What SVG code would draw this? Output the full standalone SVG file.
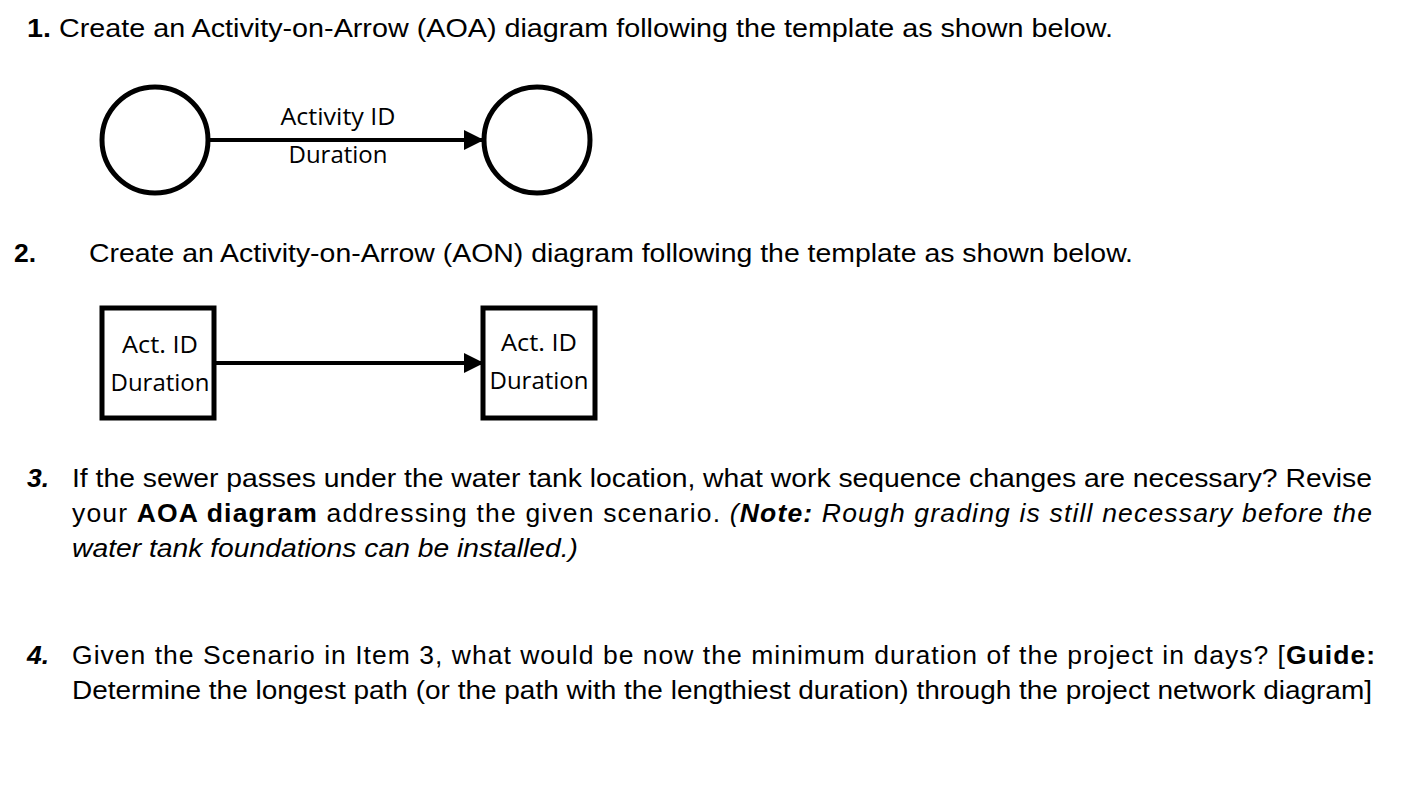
<svg xmlns="http://www.w3.org/2000/svg" width="1406" height="808" viewBox="0 0 1406 808">
<defs>
<style>
.t{font-family:"Liberation Sans",Arial,sans-serif;font-size:26.5px;fill:#000}
.c{font-family:"Open Sans","Liberation Sans",sans-serif;font-size:23px;fill:#000;text-anchor:middle}
.n{fill:#fff;stroke:#000;stroke-width:5}
.e{stroke:#000;stroke-width:4;fill:none;marker-end:url(#ah)}
</style>
<marker id="ah" markerWidth="5" markerHeight="5" refX="4.5" refY="2.5" orient="auto" markerUnits="strokeWidth"><path d="M0,0 L5,2.5 L0,5 z" fill="#000"/></marker>
</defs>
<rect width="1406" height="808" fill="#fff"/>
<text class="t" x="27" y="37" textLength="1086" lengthAdjust="spacingAndGlyphs"><tspan font-weight="bold">1.</tspan>  Create an Activity-on-Arrow (AOA) diagram following the template as shown below.</text>
<g id="connectors">
<line class="e" x1="210" y1="140" x2="482" y2="140"/>
<line class="e" x1="214" y1="363" x2="482" y2="363"/>
</g>
<g id="aoa1"><circle class="n" cx="155" cy="140" r="53"/></g>
<g id="aoa2"><circle class="n" cx="537" cy="140" r="53"/></g>
<text class="c" x="338" y="125" textLength="115" lengthAdjust="spacingAndGlyphs">Activity ID</text>
<text class="c" x="338" y="163" textLength="99" lengthAdjust="spacingAndGlyphs">Duration</text>
<text class="t" x="14" y="262" font-weight="bold">2.</text>
<text class="t" x="89" y="262" textLength="1044" lengthAdjust="spacingAndGlyphs">Create an Activity-on-Arrow (AON) diagram following the template as shown below.</text>
<g id="aon1"><rect class="n" x="102" y="308" width="112" height="110"/>
<text class="c" x="160" y="353" textLength="76" lengthAdjust="spacingAndGlyphs">Act. ID</text><text class="c" x="160" y="391" textLength="99" lengthAdjust="spacingAndGlyphs">Duration</text></g>
<g id="aon2"><rect class="n" x="483" y="308" width="112" height="110"/>
<text class="c" x="539" y="351" textLength="76" lengthAdjust="spacingAndGlyphs">Act. ID</text><text class="c" x="539" y="389" textLength="99" lengthAdjust="spacingAndGlyphs">Duration</text></g>
<text class="t" x="27" y="487" font-weight="bold" font-style="italic">3.</text>
<text class="t" x="72" y="487" textLength="1300" lengthAdjust="spacingAndGlyphs">If the sewer passes under the water tank location, what work sequence changes are necessary? Revise</text>
<text class="t" x="72" y="522" textLength="1300" lengthAdjust="spacing">your <tspan font-weight="bold">AOA diagram</tspan> addressing the given scenario. <tspan font-style="italic">(<tspan font-weight="bold">Note:</tspan> Rough grading is still necessary before the</tspan></text>
<text class="t" x="72" y="557" font-style="italic" textLength="506" lengthAdjust="spacingAndGlyphs">water tank foundations can be installed.)</text>
<text class="t" x="27" y="664" font-weight="bold" font-style="italic">4.</text>
<text class="t" x="72" y="664" textLength="1303" lengthAdjust="spacing">Given the Scenario in Item 3, what would be now the minimum duration of the project in days? [<tspan font-weight="bold">Guide:</tspan></text>
<text class="t" x="72" y="699" textLength="1300" lengthAdjust="spacingAndGlyphs">Determine the longest path (or the path with the lengthiest duration) through the project network diagram]</text>
</svg>
